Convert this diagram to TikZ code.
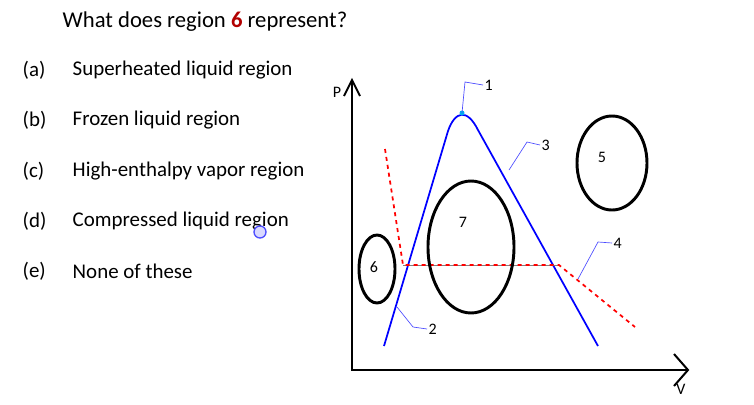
\documentclass[tikz,border=0pt]{standalone}
\usepackage{fontspec}
\setmainfont{Carlito}
\begin{document}
\begin{tikzpicture}[x=0.75pt,y=-0.75pt,
  opt/.style={anchor=west,font=\fontsize{15.7}{18}\selectfont},
  lbl/.style={font=\fontsize{12}{14}\selectfont,inner sep=1pt},
  ring/.style={draw=black,line width=2.2pt},
  call/.style={draw=blue!70,line width=0.5pt},
  ax/.style={line width=1.5pt}]
\useasboundingbox (0,0) rectangle (754,404);
\node[anchor=west,font=\fontsize{17}{20}\selectfont] (q) at (58,22) {What does region {\color{red!70!black}\bfseries 6} represent?};
\node[opt] (a1) at (18,70) {(a)}; \node[opt] (a2) at (68,70) {Superheated liquid region};
\node[opt] (b1) at (18,120) {(b)}; \node[opt] (b2) at (68,120) {Frozen liquid region};
\node[opt] (c1) at (18,171) {(c)}; \node[opt] (c2) at (68,171) {High-enthalpy vapor region};
\node[opt] (d1) at (18,221) {(d)}; \node[opt] (d2) at (68,221) {Compressed liquid region};
\node[opt] (e1) at (18,271) {(e)}; \node[opt] (e2) at (68,271) {None of these};
\node[circle,draw=blue!70,fill=blue!15,line width=1pt,minimum size=9pt,inner sep=0pt] (cur) at (260,232) {};
% axes
\coordinate (o) at (352,370);
\coordinate (yt) at (352,80);
\coordinate (xt) at (688,370);
\draw[ax] (yt) -- (o) -- (xt);
\draw[ax] (344,96) -- (yt) -- (360,96);
\draw[ax] (674,354) -- (xt) -- (674,386);
\node[lbl] (P) at (337,92) {P};
\node[lbl] (V) at (681,389) {V};
% dome
\coordinate (l0) at (384,346);
\coordinate (pk) at (462,113);
\coordinate (r0) at (598,346);
\coordinate (lf) at (403,265);
\coordinate (rg) at (559,265);
\draw[blue,line width=1.3pt] (l0) -- (448,131) .. controls (455,111) and (467,108) .. (478,130) -- (r0);
\fill[cyan] (pk) circle (2.5);
% red dashed
\coordinate (rs) at (385,149);
\coordinate (re) at (635,327);
\draw[gray,line width=0.6pt] (lf) -- (rg);
\draw[red,dashed,line width=1.3pt] (rs) -- (lf) -- (rg) -- (re);
% rings
\draw[ring] (377,269) ellipse (18 and 34);
\draw[ring] (471,247) ellipse (43 and 66);
\draw[ring] (612,163) ellipse (35 and 47);
\node[lbl] (n6) at (374,267) {6};
\node[lbl] (n7) at (463,222) {7};
\node[lbl] (n5) at (602,157) {5};
% callouts
\node[lbl,anchor=west] (c1n) at (483,85) {1};
\draw[call] (pk) -- (465,82) -- (c1n.west);
\node[lbl,anchor=west] (c3n) at (540,145) {3};
\draw[call] (509,170) -- (527,142) -- (c3n.west);
\node[lbl,anchor=west] (c4n) at (612,243) {4};
\draw[call] (578,279) -- (598,242) -- (c4n.west);
\node[lbl,anchor=west] (c2n) at (427,329) {2};
\draw[call] (397,307) -- (413,327) -- (c2n.west);
\end{tikzpicture}
\end{document}
